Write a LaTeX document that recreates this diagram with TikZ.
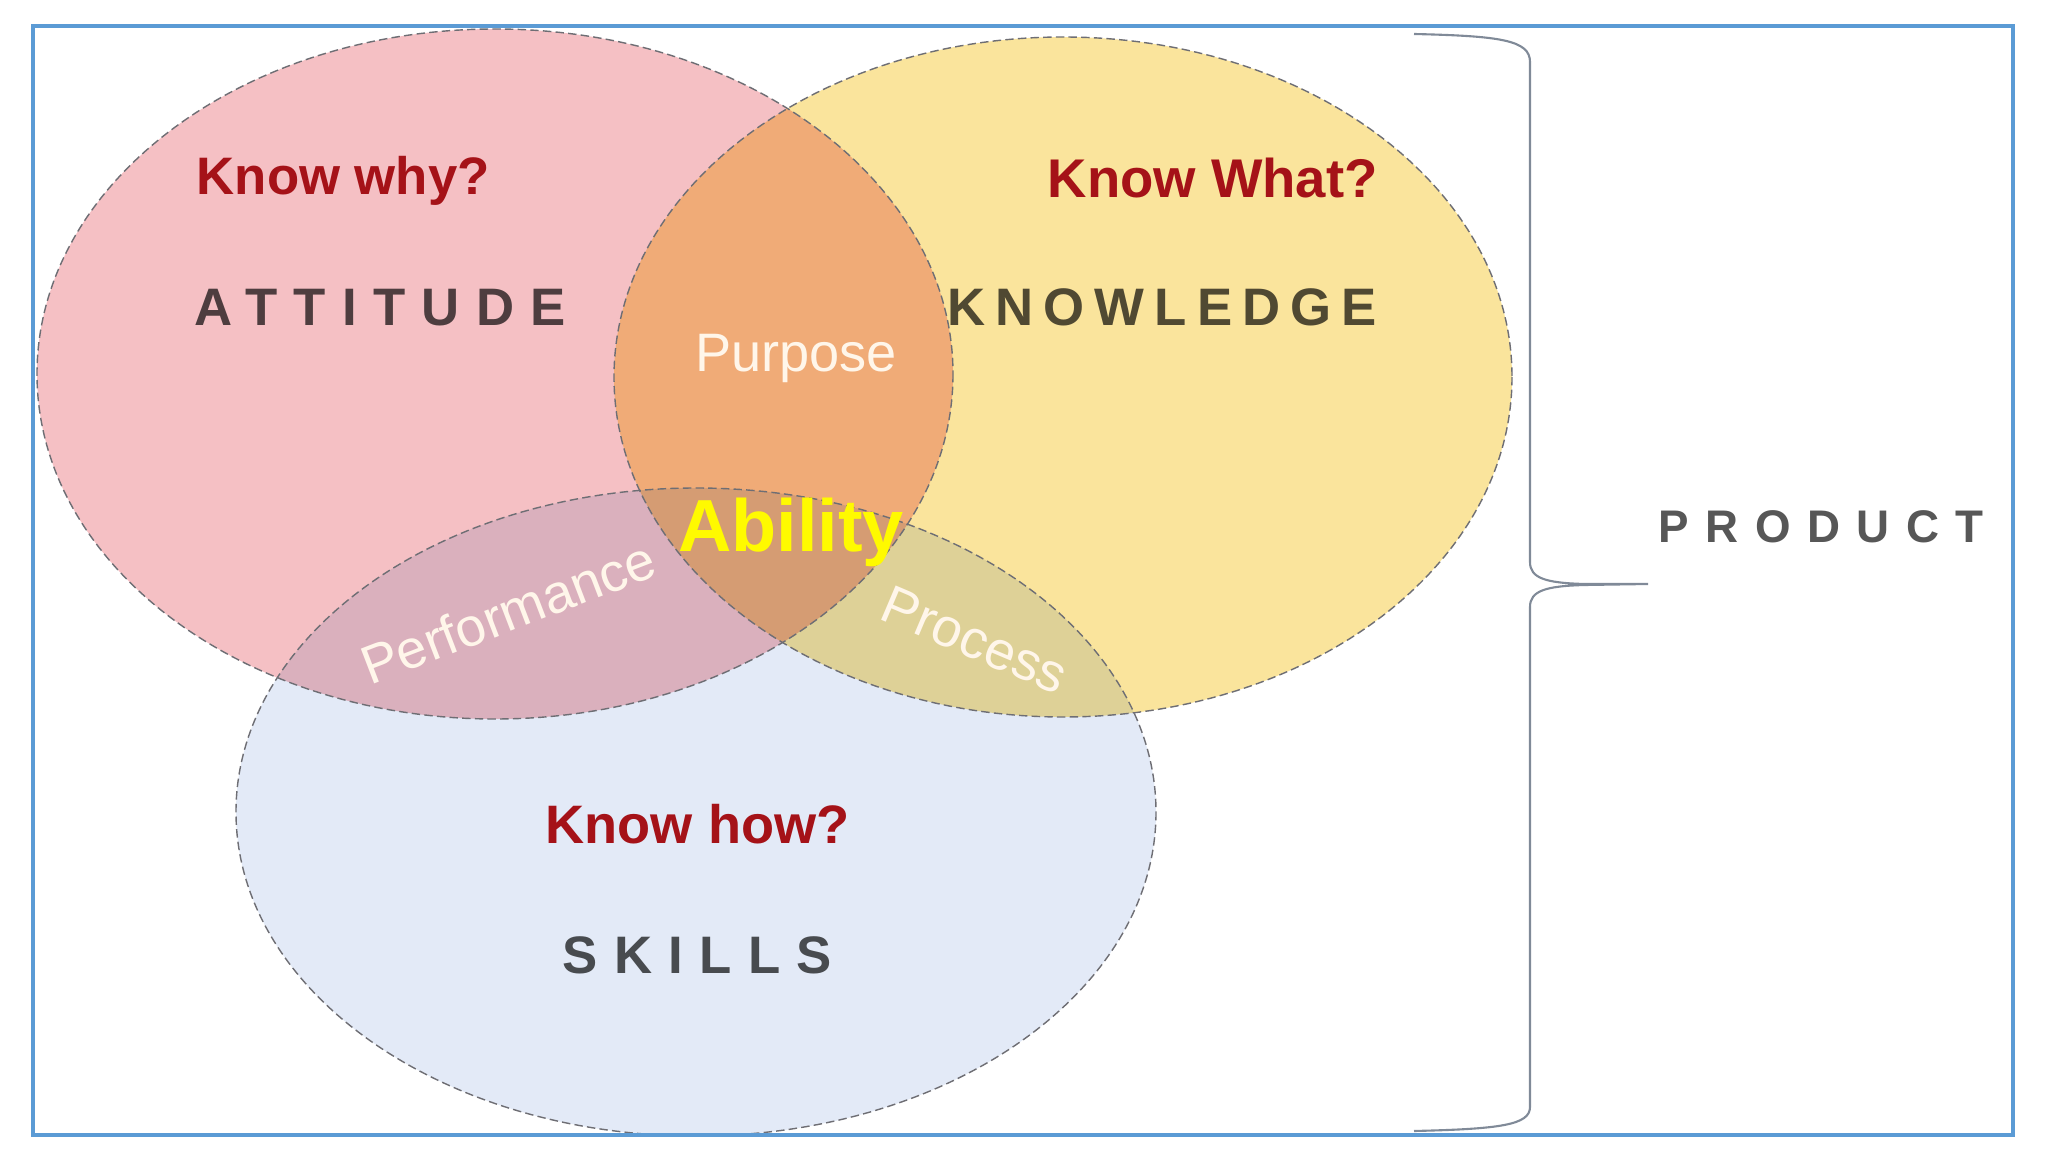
\documentclass[tikz,border=0pt]{standalone}
\usepackage{fontspec}
\setmainfont{Liberation Sans}
\newfontfamily\lsA[LetterSpace=31]{Liberation Sans}
\newfontfamily\lsK[LetterSpace=19]{Liberation Sans}
\newfontfamily\lsP[LetterSpace=36]{Liberation Sans}
\definecolor{pinkF}{RGB}{245,192,196}
\definecolor{yellowF}{RGB}{250,228,156}
\definecolor{blueF}{RGB}{227,234,247}
\definecolor{frameblue}{RGB}{91,155,213}
\definecolor{askred}{RGB}{165,18,24}
\definecolor{titlegray}{RGB}{82,82,82}
\definecolor{outline}{RGB}{110,110,116}
\definecolor{bracegray}{RGB}{128,138,152}
\definecolor{lighttext}{RGB}{255,246,234}
\definecolor{abilityY}{RGB}{255,250,0}
\begin{document}
\begin{tikzpicture}[x=0.01cm,y=-0.01cm,
  vennfill/.style={fill=#1, blend mode=multiply},
  vennline/.style={draw=outline, line width=0.4pt, dash pattern=on 2.4pt off 1.2pt},
  ask/.style={text=askred, font=\fontsize{15}{18}\selectfont\bfseries, anchor=base west, inner sep=0pt},
  title/.style={text=titlegray, anchor=base west, inner sep=0pt, blend mode=multiply},
  inner/.style={text=lighttext, font=\fontsize{15.4}{18}\selectfont, inner sep=0pt}]
\useasboundingbox (0,0) rectangle (2048,1164);
\fill[white] (0,0) rectangle (2048,1164);
% circles
\fill[vennfill=pinkF] (495,374) ellipse [x radius=458, y radius=345];
\fill[vennfill=yellowF] (1063,377) ellipse [x radius=449, y radius=340];
\fill[vennfill=blueF] (696,812) ellipse [x radius=460, y radius=324];
\draw[vennline] (495,374) ellipse [x radius=458, y radius=345];
\draw[vennline] (1063,377) ellipse [x radius=449, y radius=340];
\draw[vennline] (696,812) ellipse [x radius=460, y radius=324];
% frame
\draw[frameblue, line width=1.2pt] (33,26) rectangle (2013,1135);
% labels
\node[ask] (why) at (196,195) {Know why?};
\node[ask, font=\fontsize{15.5}{18}\selectfont\bfseries] (what) at (1047,198) {Know What?};
\node[ask, font=\fontsize{15.4}{18}\selectfont\bfseries] (how) at (545,843) {Know how?};
\node[title, font=\fontsize{15}{18}\selectfont\lsA\bfseries] (att) at (194,326) {ATTITUDE};
\node[title, font=\fontsize{15}{18}\selectfont\lsK\bfseries] (kno) at (947,326) {KNOWLEDGE};
\node[title, font=\fontsize{15}{18}\selectfont\lsA\bfseries] (ski) at (562,973) {SKILLS};
\node[title, font=\fontsize{13}{16}\selectfont\lsP\bfseries, text=black!66] (prod) at (1658,543) {PRODUCT};
\node[inner, anchor=base] (purp) at (796,372) {Purpose};
\node[text=abilityY, font=\fontsize{21}{24}\selectfont\bfseries, anchor=base, inner sep=0pt] (abil) at (791,551) {Ability};
\node[inner, rotate=21] (perf) at (508,612) {Performance};
\node[inner, rotate=-23] (proc) at (975,640) {Process};
% brace
\coordinate (bt) at (1414,34);
\coordinate (bb) at (1414,1131);
\coordinate (tip) at (1648,584);
\draw[bracegray, line width=0.6pt]
  (bt) .. controls (1500,36) and (1530,40) .. (1530,62)
  -- (1530,562) .. controls (1530,578) and (1545,583) .. (1585,584) -- (tip)
  -- (1585,585) .. controls (1545,586) and (1530,591) .. (1530,607)
  -- (1530,1107) .. controls (1530,1125) and (1500,1129) .. (bb);
\end{tikzpicture}
\end{document}
